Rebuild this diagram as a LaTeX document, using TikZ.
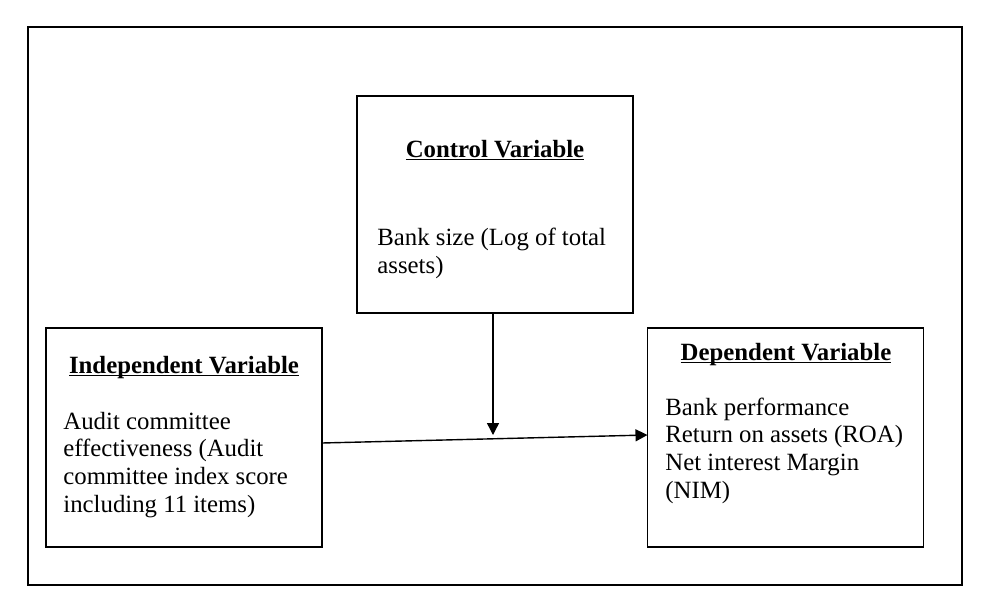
\documentclass[tikz,border=0pt]{standalone}
\usepackage{fontspec}
\setmainfont{Liberation Serif}
\usetikzlibrary{positioning, arrows.meta}

\newcommand{\headline}[1]{\underline{\smash{#1}}}

\tikzset{
  varbox/.style={draw, line width=0.8pt, inner sep=0pt, outer sep=0pt,
    minimum width=138pt, minimum height=109.5pt},
  head/.style={anchor=base, inner sep=0pt,
    font=\fontsize{12.4}{13.8}\selectfont\bfseries},
  body/.style={anchor=base west, align=left, inner sep=0pt,
    font=\fontsize{12.4}{13.8}\selectfont},
  link/.style={line width=0.7pt, -{Triangle[length=6pt,width=6pt]}}
}

\begin{document}
\begin{tikzpicture}[x=0.5pt,y=-0.5pt]
\useasboundingbox (0,0) rectangle (986,616);

% Outer frame
\draw[line width=1pt] (28,27) rectangle (962,585);

% The three variable boxes
\node[varbox, minimum height=108.5pt] (ctrl) at (495,204.5) {};
\node[varbox] (indep) at (184,437.5) {};
\node[varbox] (dep) at (785.5,437.5) {};

% Headings
\node[head] (ctrlhead) at (495,157) {\headline{Control Variable}};
\node[head] (indephead) at (184,373) {\headline{Independent Variable}};
\node[head] (dephead) at (786,360) {\headline{Dependent Variable}};

% Box contents (base = last line)
\node[body] (ctrltext) at (377,273) {Bank size (Log of total\\assets)};
\node[body] (indeptext) at (63,512)
  {Audit committee\\effectiveness (Audit\\committee index score\\including 11 items)};
\node[body] (deptext) at (665,498)
  {Bank performance\\Return on assets (ROA)\\Net interest Margin\\(NIM)};

% Links
\coordinate (meet) at (493,435);
\draw[link] ([yshift=-2.75pt]indep.east) -- ([yshift=1.25pt]dep.west);
\draw[link] (meet |- ctrl.south) -- (meet);
\end{tikzpicture}
\end{document}
